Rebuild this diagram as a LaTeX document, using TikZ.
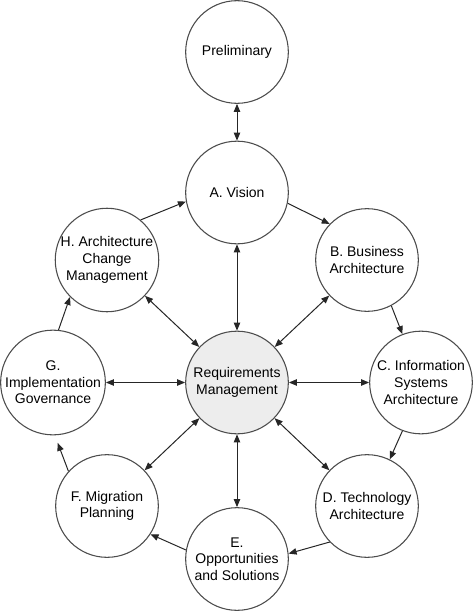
\documentclass[tikz,border=0pt]{standalone}
\usepackage{fontspec}
\setmainfont{Liberation Sans}
\usetikzlibrary{arrows.meta}
\begin{document}
\begin{tikzpicture}[x=0.75pt,y=-0.75pt,
  phase/.style={circle,draw=black!70,line width=0.8pt,fill=white,inner sep=0pt,
    minimum size=77pt,align=center,font=\fontsize{10.5pt}{12.5pt}\selectfont},
  center/.style={phase,fill=black!7},
  arr/.style={-{Triangle[length=6pt,width=4.8pt]},line width=0.75pt,black!85},
  darr/.style={{Triangle[length=6pt,width=4.8pt]}-{Triangle[length=6pt,width=4.8pt]},line width=0.75pt,black!85}]
\useasboundingbox (0,0) rectangle (474,611);
\node[phase] (pre) at (237,52) {Preliminary};
\node[phase] (a) at (237,192.5) {A. Vision};
\node[phase] (b) at (367,260) {B. Business\\Architecture};
\node[phase] (c) at (421,382.5) {C. Information\\Systems\\Architecture};
\node[phase] (d) at (367,506) {D. Technology\\Architecture};
\node[phase] (e) at (237,559) {E.\\Opportunities\\and Solutions};
\node[phase] (f) at (107,506) {F. Migration\\Planning};
\node[phase] (g) at (53,382.5) {G.\\Implementation\\Governance};
\node[phase] (h) at (107,260) {H. Architecture\\Change\\Management};
\node[center] (r) at (237,382.5) {Requirements\\Management};
\draw[darr] (pre) -- (a);
\draw[arr] (h.50) -- (a.190);
\draw[arr] (a.-12) -- (b.136);
\draw[arr] (b.-62) -- (c.111);
\draw[arr] (c.-111) -- (d.64);
\draw[arr] (d.-136) -- (e.6);
\draw[arr] (e.170) -- (f.-33);
\draw[arr,shorten >=6pt] (f.138) -- (g.-88);
\draw[arr] (g.84) -- (h.-135);
\foreach \n in {a,b,c,d,e,f,g,h} \draw[darr] (r) -- (\n);
\end{tikzpicture}
\end{document}
